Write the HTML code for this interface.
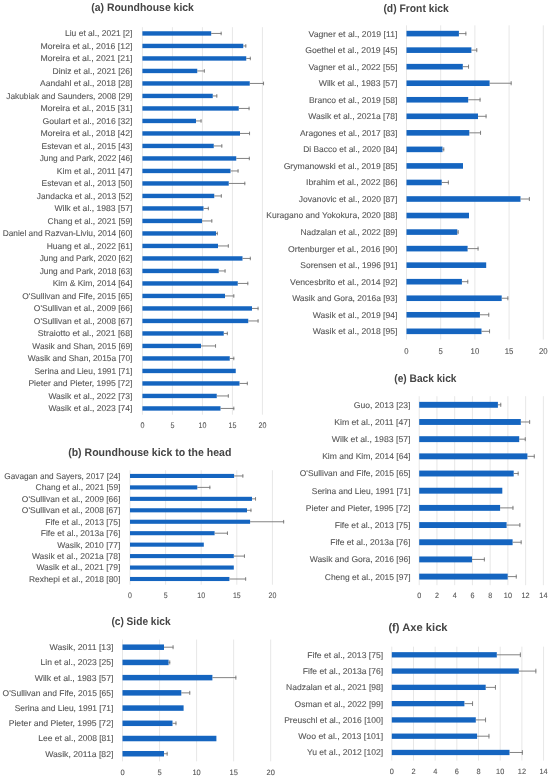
<!DOCTYPE html>
<html lang="en"><head><meta charset="utf-8"><title>Kick velocity by study</title>
<style>
html,body{margin:0;padding:0;background:#fff}
svg{display:block}
text{font-family:"Liberation Sans",sans-serif;text-rendering:geometricPrecision}
.l{font-size:8.4px;fill:#565656;text-anchor:end;stroke:#565656;stroke-width:.1}
.a{font-size:8.4px;fill:#565656;text-anchor:middle;stroke:#565656;stroke-width:.1}
.t{font-size:11px;font-weight:bold;fill:#454545}
.g{stroke:#e7e7e7;stroke-width:1}
.e{stroke:#747474;stroke-width:0.9;fill:none}
.b{fill:#1565c0}
</style></head>
<body>
<svg width="550" height="778" viewBox="0 0 550 778">
<rect width="550" height="778" fill="#fff"/>
<g>
<text class="t" x="91.3" y="10.9" textLength="102.6" lengthAdjust="spacingAndGlyphs">(a) Roundhouse kick</text>
<line class="g" x1="142.40" y1="27.20" x2="142.40" y2="414.70"/>
<line class="g" x1="172.40" y1="27.20" x2="172.40" y2="414.70"/>
<line class="g" x1="202.40" y1="27.20" x2="202.40" y2="414.70"/>
<line class="g" x1="232.40" y1="27.20" x2="232.40" y2="414.70"/>
<line class="g" x1="262.40" y1="27.20" x2="262.40" y2="414.70"/>
<text class="l" x="132.4" y="36.35" textLength="67.4" lengthAdjust="spacingAndGlyphs">Liu et al., 2021 [2]</text>
<rect class="b" x="142.40" y="31.25" width="68.80" height="4.40"/>
<path class="e" d="M211.20 33.45H221.60M221.15 31.65V35.25"/>
<text class="l" x="132.4" y="48.85" textLength="91.9" lengthAdjust="spacingAndGlyphs">Moreira et al., 2016 [12]</text>
<rect class="b" x="142.40" y="43.75" width="100.85" height="4.40"/>
<path class="e" d="M243.25 45.95H246.25M245.80 44.15V47.75"/>
<text class="l" x="132.4" y="61.35" textLength="91.9" lengthAdjust="spacingAndGlyphs">Moreira et al., 2021 [21]</text>
<rect class="b" x="142.40" y="56.25" width="103.85" height="4.40"/>
<path class="e" d="M246.25 58.45H250.75M250.30 56.65V60.25"/>
<text class="l" x="132.4" y="73.85" textLength="79.8" lengthAdjust="spacingAndGlyphs">Diniz et al., 2021 [26]</text>
<rect class="b" x="142.40" y="68.75" width="54.85" height="4.40"/>
<path class="e" d="M197.25 70.95H204.75M204.30 69.15V72.75"/>
<text class="l" x="132.4" y="86.35" textLength="92.4" lengthAdjust="spacingAndGlyphs">Aandahl et al., 2018 [28]</text>
<rect class="b" x="142.40" y="81.25" width="107.35" height="4.40"/>
<path class="e" d="M249.75 83.45H264.00M263.55 81.65V85.25"/>
<text class="l" x="132.4" y="98.85" textLength="126.1" lengthAdjust="spacingAndGlyphs">Jakubiak and Saunders, 2008 [29]</text>
<rect class="b" x="142.40" y="93.75" width="70.35" height="4.40"/>
<path class="e" d="M212.75 95.95H217.25M216.80 94.15V97.75"/>
<text class="l" x="132.4" y="111.35" textLength="91.9" lengthAdjust="spacingAndGlyphs">Moreira et al., 2015 [31]</text>
<rect class="b" x="142.40" y="106.25" width="96.35" height="4.40"/>
<path class="e" d="M238.75 108.45H249.50M249.05 106.65V110.25"/>
<text class="l" x="132.4" y="123.85" textLength="89.9" lengthAdjust="spacingAndGlyphs">Goulart et al., 2016 [32]</text>
<rect class="b" x="142.40" y="118.75" width="53.60" height="4.40"/>
<path class="e" d="M196.00 120.95H201.50M201.05 119.15V122.75"/>
<text class="l" x="132.4" y="136.35" textLength="91.9" lengthAdjust="spacingAndGlyphs">Moreira et al., 2018 [42]</text>
<rect class="b" x="142.40" y="131.25" width="97.60" height="4.40"/>
<path class="e" d="M240.00 133.45H250.00M249.55 131.65V135.25"/>
<text class="l" x="132.4" y="148.85" textLength="90.8" lengthAdjust="spacingAndGlyphs">Estevan et al., 2015 [43]</text>
<rect class="b" x="142.40" y="143.75" width="71.35" height="4.40"/>
<path class="e" d="M213.75 145.95H222.25M221.80 144.15V147.75"/>
<text class="l" x="132.4" y="161.35" textLength="92.7" lengthAdjust="spacingAndGlyphs">Jung and Park, 2022 [46]</text>
<rect class="b" x="142.40" y="156.25" width="93.85" height="4.40"/>
<path class="e" d="M236.25 158.45H249.75M249.30 156.65V160.25"/>
<text class="l" x="132.4" y="173.85" textLength="75.6" lengthAdjust="spacingAndGlyphs">Kim et al., 2011 [47]</text>
<rect class="b" x="142.40" y="168.75" width="88.10" height="4.40"/>
<path class="e" d="M230.50 170.95H238.50M238.05 169.15V172.75"/>
<text class="l" x="132.4" y="186.35" textLength="90.8" lengthAdjust="spacingAndGlyphs">Estevan et al., 2013 [50]</text>
<rect class="b" x="142.40" y="181.25" width="86.35" height="4.40"/>
<path class="e" d="M228.75 183.45H245.25M244.80 181.65V185.25"/>
<text class="l" x="132.4" y="198.85" textLength="95.6" lengthAdjust="spacingAndGlyphs">Jandacka et al., 2013 [52]</text>
<rect class="b" x="142.40" y="193.75" width="71.85" height="4.40"/>
<path class="e" d="M214.25 195.95H221.75M221.30 194.15V197.75"/>
<text class="l" x="132.4" y="211.35" textLength="78.0" lengthAdjust="spacingAndGlyphs">Wilk et al., 1983 [57]</text>
<rect class="b" x="142.40" y="206.25" width="61.10" height="4.40"/>
<path class="e" d="M203.50 208.45H208.75M208.30 206.65V210.25"/>
<text class="l" x="132.4" y="223.85" textLength="84.8" lengthAdjust="spacingAndGlyphs">Chang et al., 2021 [59]</text>
<rect class="b" x="142.40" y="218.75" width="59.60" height="4.40"/>
<path class="e" d="M202.00 220.95H212.25M211.80 219.15V222.75"/>
<text class="l" x="132.4" y="236.35" textLength="129.7" lengthAdjust="spacingAndGlyphs">Daniel and Razvan-Liviu, 2014 [60]</text>
<rect class="b" x="142.40" y="231.25" width="73.60" height="4.40"/>
<path class="e" d="M216.00 233.45H217.75M217.30 231.65V235.25"/>
<text class="l" x="132.4" y="248.85" textLength="85.7" lengthAdjust="spacingAndGlyphs">Huang et al., 2022 [61]</text>
<rect class="b" x="142.40" y="243.75" width="75.60" height="4.40"/>
<path class="e" d="M218.00 245.95H228.75M228.30 244.15V247.75"/>
<text class="l" x="132.4" y="261.35" textLength="92.7" lengthAdjust="spacingAndGlyphs">Jung and Park, 2020 [62]</text>
<rect class="b" x="142.40" y="256.25" width="100.10" height="4.40"/>
<path class="e" d="M242.50 258.45H250.75M250.30 256.65V260.25"/>
<text class="l" x="132.4" y="273.85" textLength="92.7" lengthAdjust="spacingAndGlyphs">Jung and Park, 2018 [63]</text>
<rect class="b" x="142.40" y="268.75" width="76.35" height="4.40"/>
<path class="e" d="M218.75 270.95H225.50M225.05 269.15V272.75"/>
<text class="l" x="132.4" y="286.35" textLength="79.7" lengthAdjust="spacingAndGlyphs">Kim &amp; Kim, 2014 [64]</text>
<rect class="b" x="142.40" y="281.25" width="95.35" height="4.40"/>
<path class="e" d="M237.75 283.45H248.25M247.80 281.65V285.25"/>
<text class="l" x="132.4" y="298.85" textLength="110.1" lengthAdjust="spacingAndGlyphs">O'Sullivan and Fife, 2015 [65]</text>
<rect class="b" x="142.40" y="293.75" width="82.60" height="4.40"/>
<path class="e" d="M225.00 295.95H234.25M233.80 294.15V297.75"/>
<text class="l" x="132.4" y="311.35" textLength="98.6" lengthAdjust="spacingAndGlyphs">O'Sullivan et al., 2009 [66]</text>
<rect class="b" x="142.40" y="306.25" width="109.60" height="4.40"/>
<path class="e" d="M252.00 308.45H258.50M258.05 306.65V310.25"/>
<text class="l" x="132.4" y="323.85" textLength="98.6" lengthAdjust="spacingAndGlyphs">O'Sullivan et al., 2008 [67]</text>
<rect class="b" x="142.40" y="318.75" width="105.85" height="4.40"/>
<path class="e" d="M248.25 320.95H258.50M258.05 319.15V322.75"/>
<text class="l" x="132.4" y="336.35" textLength="94.6" lengthAdjust="spacingAndGlyphs">Straiotto et al., 2021 [68]</text>
<rect class="b" x="142.40" y="331.25" width="81.35" height="4.40"/>
<path class="e" d="M223.75 333.45H227.75M227.30 331.65V335.25"/>
<text class="l" x="132.4" y="348.85" textLength="100.1" lengthAdjust="spacingAndGlyphs">Wasik and Shan, 2015 [69]</text>
<rect class="b" x="142.40" y="343.75" width="58.60" height="4.40"/>
<path class="e" d="M201.00 345.95H216.00M215.55 344.15V347.75"/>
<text class="l" x="132.4" y="361.35" textLength="104.6" lengthAdjust="spacingAndGlyphs">Wasik and Shan, 2015a [70]</text>
<rect class="b" x="142.40" y="356.25" width="87.35" height="4.40"/>
<path class="e" d="M229.75 358.45H234.25M233.80 356.65V360.25"/>
<text class="l" x="132.4" y="373.85" textLength="98.0" lengthAdjust="spacingAndGlyphs">Serina and Lieu, 1991 [71]</text>
<rect class="b" x="142.40" y="368.75" width="93.35" height="4.40"/>
<text class="l" x="132.4" y="386.35" textLength="104.0" lengthAdjust="spacingAndGlyphs">Pieter and Pieter, 1995 [72]</text>
<rect class="b" x="142.40" y="381.25" width="97.10" height="4.40"/>
<path class="e" d="M239.50 383.45H247.75M247.30 381.65V385.25"/>
<text class="l" x="132.4" y="398.85" textLength="84.0" lengthAdjust="spacingAndGlyphs">Wasik et al., 2022 [73]</text>
<rect class="b" x="142.40" y="393.75" width="74.35" height="4.40"/>
<path class="e" d="M216.75 395.95H228.75M228.30 394.15V397.75"/>
<text class="l" x="132.4" y="411.35" textLength="84.0" lengthAdjust="spacingAndGlyphs">Wasik et al., 2023 [74]</text>
<rect class="b" x="142.40" y="406.25" width="78.10" height="4.40"/>
<path class="e" d="M220.50 408.45H234.25M233.80 406.65V410.25"/>
<g class="a" style="font-size:8.1px">
<text x="142.4" y="428.2" textLength="4.0" lengthAdjust="spacingAndGlyphs">0</text>
<text x="172.4" y="428.2" textLength="4.0" lengthAdjust="spacingAndGlyphs">5</text>
<text x="202.4" y="428.2" textLength="7.9" lengthAdjust="spacingAndGlyphs">10</text>
<text x="232.4" y="428.2" textLength="7.9" lengthAdjust="spacingAndGlyphs">15</text>
<text x="262.4" y="428.2" textLength="7.9" lengthAdjust="spacingAndGlyphs">20</text>
</g>
</g>
<g>
<text class="t" x="68.2" y="455.9" textLength="163.2" lengthAdjust="spacingAndGlyphs">(b) Roundhouse kick to the head</text>
<line class="g" x1="130.00" y1="470.22" x2="130.00" y2="584.73"/>
<line class="g" x1="165.60" y1="470.22" x2="165.60" y2="584.73"/>
<line class="g" x1="201.20" y1="470.22" x2="201.20" y2="584.73"/>
<line class="g" x1="236.80" y1="470.22" x2="236.80" y2="584.73"/>
<line class="g" x1="272.40" y1="470.22" x2="272.40" y2="584.73"/>
<text class="l" x="120.4" y="478.85" textLength="116.1" lengthAdjust="spacingAndGlyphs">Gavagan and Sayers, 2017 [24]</text>
<rect class="b" x="130.00" y="473.90" width="104.10" height="4.10"/>
<path class="e" d="M234.10 475.95H243.30M242.85 474.15V477.75"/>
<text class="l" x="120.4" y="490.30" textLength="84.8" lengthAdjust="spacingAndGlyphs">Chang et al., 2021 [59]</text>
<rect class="b" x="130.00" y="485.35" width="67.30" height="4.10"/>
<path class="e" d="M197.30 487.40H210.30M209.85 485.60V489.20"/>
<text class="l" x="120.4" y="501.75" textLength="98.6" lengthAdjust="spacingAndGlyphs">O'Sullivan et al., 2009 [66]</text>
<rect class="b" x="130.00" y="496.80" width="122.00" height="4.10"/>
<path class="e" d="M252.00 498.85H256.00M255.55 497.05V500.65"/>
<text class="l" x="120.4" y="513.20" textLength="98.6" lengthAdjust="spacingAndGlyphs">O'Sullivan et al., 2008 [67]</text>
<rect class="b" x="130.00" y="508.25" width="117.00" height="4.10"/>
<path class="e" d="M247.00 510.30H251.40M250.95 508.50V512.10"/>
<text class="l" x="120.4" y="524.65" textLength="75.1" lengthAdjust="spacingAndGlyphs">Fife et al., 2013 [75]</text>
<rect class="b" x="130.00" y="519.70" width="120.10" height="4.10"/>
<path class="e" d="M250.10 521.75H284.10M283.65 519.95V523.55"/>
<text class="l" x="120.4" y="536.10" textLength="79.6" lengthAdjust="spacingAndGlyphs">Fife et al., 2013a [76]</text>
<rect class="b" x="130.00" y="531.15" width="84.60" height="4.10"/>
<path class="e" d="M214.60 533.20H227.90M227.45 531.40V535.00"/>
<text class="l" x="120.4" y="547.55" textLength="63.1" lengthAdjust="spacingAndGlyphs">Wasik, 2010 [77]</text>
<rect class="b" x="130.00" y="542.60" width="73.80" height="4.10"/>
<text class="l" x="120.4" y="559.00" textLength="88.5" lengthAdjust="spacingAndGlyphs">Wasik et al., 2021a [78]</text>
<rect class="b" x="130.00" y="554.05" width="103.80" height="4.10"/>
<path class="e" d="M233.80 556.10H244.90M244.45 554.30V557.90"/>
<text class="l" x="120.4" y="570.45" textLength="84.0" lengthAdjust="spacingAndGlyphs">Wasik et al., 2021 [79]</text>
<rect class="b" x="130.00" y="565.50" width="103.80" height="4.10"/>
<text class="l" x="120.4" y="581.90" textLength="91.5" lengthAdjust="spacingAndGlyphs">Rexhepi et al., 2018 [80]</text>
<rect class="b" x="130.00" y="576.95" width="99.40" height="4.10"/>
<path class="e" d="M229.40 579.00H246.10M245.65 577.20V580.80"/>
<g class="a" style="font-size:8.0px">
<text x="130.0" y="598.2" textLength="3.9" lengthAdjust="spacingAndGlyphs">0</text>
<text x="165.6" y="598.2" textLength="3.9" lengthAdjust="spacingAndGlyphs">5</text>
<text x="201.2" y="598.2" textLength="7.8" lengthAdjust="spacingAndGlyphs">10</text>
<text x="236.8" y="598.2" textLength="7.8" lengthAdjust="spacingAndGlyphs">15</text>
<text x="272.4" y="598.2" textLength="7.8" lengthAdjust="spacingAndGlyphs">20</text>
</g>
</g>
<g>
<text class="t" x="111.4" y="624.8" textLength="59.2" lengthAdjust="spacingAndGlyphs">(c) Side kick</text>
<line class="g" x1="122.50" y1="639.59" x2="122.50" y2="761.35"/>
<line class="g" x1="159.55" y1="639.59" x2="159.55" y2="761.35"/>
<line class="g" x1="196.60" y1="639.59" x2="196.60" y2="761.35"/>
<line class="g" x1="233.65" y1="639.59" x2="233.65" y2="761.35"/>
<line class="g" x1="270.70" y1="639.59" x2="270.70" y2="761.35"/>
<text class="l" x="113.4" y="650.10" textLength="63.8" lengthAdjust="spacingAndGlyphs">Wasik, 2011 [13]</text>
<rect class="b" x="122.50" y="644.45" width="41.50" height="5.50"/>
<path class="e" d="M164.00 647.20H173.50M173.05 645.20V649.20"/>
<text class="l" x="113.4" y="665.32" textLength="72.9" lengthAdjust="spacingAndGlyphs">Lin et al., 2023 [25]</text>
<rect class="b" x="122.50" y="659.67" width="46.10" height="5.50"/>
<path class="e" d="M168.60 662.42H170.20M169.75 660.42V664.42"/>
<text class="l" x="113.4" y="680.54" textLength="78.7" lengthAdjust="spacingAndGlyphs">Wilk et al., 1983 [57]</text>
<rect class="b" x="122.50" y="674.89" width="89.90" height="5.50"/>
<path class="e" d="M212.40 677.64H236.30M235.85 675.64V679.64"/>
<text class="l" x="113.4" y="695.76" textLength="110.8" lengthAdjust="spacingAndGlyphs">O'Sullivan and Fife, 2015 [65]</text>
<rect class="b" x="122.50" y="690.11" width="58.80" height="5.50"/>
<path class="e" d="M181.30 692.86H190.20M189.75 690.86V694.86"/>
<text class="l" x="113.4" y="710.98" textLength="98.7" lengthAdjust="spacingAndGlyphs">Serina and Lieu, 1991 [71]</text>
<rect class="b" x="122.50" y="705.33" width="61.10" height="5.50"/>
<text class="l" x="113.4" y="726.20" textLength="104.7" lengthAdjust="spacingAndGlyphs">Pieter and Pieter, 1995 [72]</text>
<rect class="b" x="122.50" y="720.55" width="50.00" height="5.50"/>
<path class="e" d="M172.50 723.30H176.40M175.95 721.30V725.30"/>
<text class="l" x="113.4" y="741.42" textLength="75.1" lengthAdjust="spacingAndGlyphs">Lee et al., 2008 [81]</text>
<rect class="b" x="122.50" y="735.77" width="93.90" height="5.50"/>
<text class="l" x="113.4" y="756.64" textLength="68.2" lengthAdjust="spacingAndGlyphs">Wasik, 2011a [82]</text>
<rect class="b" x="122.50" y="750.99" width="41.50" height="5.50"/>
<path class="e" d="M164.00 753.74H167.60M167.15 751.74V755.74"/>
<g class="a" style="font-size:7.8px">
<text x="122.5" y="775.0" textLength="4.2" lengthAdjust="spacingAndGlyphs">0</text>
<text x="159.6" y="775.0" textLength="4.2" lengthAdjust="spacingAndGlyphs">5</text>
<text x="196.6" y="775.0" textLength="8.3" lengthAdjust="spacingAndGlyphs">10</text>
<text x="233.7" y="775.0" textLength="8.3" lengthAdjust="spacingAndGlyphs">15</text>
<text x="270.7" y="775.0" textLength="8.3" lengthAdjust="spacingAndGlyphs">20</text>
</g>
</g>
<g>
<text class="t" x="383.4" y="12.2" textLength="65.4" lengthAdjust="spacingAndGlyphs">(d) Front kick</text>
<line class="g" x1="406.50" y1="25.33" x2="406.50" y2="339.59"/>
<line class="g" x1="440.70" y1="25.33" x2="440.70" y2="339.59"/>
<line class="g" x1="474.90" y1="25.33" x2="474.90" y2="339.59"/>
<line class="g" x1="509.10" y1="25.33" x2="509.10" y2="339.59"/>
<line class="g" x1="543.30" y1="25.33" x2="543.30" y2="339.59"/>
<text class="l" x="397.4" y="36.50" textLength="88.9" lengthAdjust="spacingAndGlyphs">Vagner et al., 2019 [11]</text>
<rect class="b" x="406.50" y="30.80" width="52.40" height="5.60"/>
<path class="e" d="M458.90 33.60H466.30M465.85 31.55V35.65"/>
<text class="l" x="397.4" y="53.04" textLength="92.2" lengthAdjust="spacingAndGlyphs">Goethel et al., 2019 [45]</text>
<rect class="b" x="406.50" y="47.34" width="64.90" height="5.60"/>
<path class="e" d="M471.40 50.14H477.20M476.75 48.09V52.19"/>
<text class="l" x="397.4" y="69.58" textLength="88.9" lengthAdjust="spacingAndGlyphs">Vagner et al., 2022 [55]</text>
<rect class="b" x="406.50" y="63.88" width="56.30" height="5.60"/>
<path class="e" d="M462.80 66.68H469.00M468.55 64.63V68.73"/>
<text class="l" x="397.4" y="86.12" textLength="78.7" lengthAdjust="spacingAndGlyphs">Wilk et al., 1983 [57]</text>
<rect class="b" x="406.50" y="80.42" width="83.10" height="5.60"/>
<path class="e" d="M489.60 83.22H511.60M511.15 81.17V85.27"/>
<text class="l" x="397.4" y="102.66" textLength="88.5" lengthAdjust="spacingAndGlyphs">Branco et al., 2019 [58]</text>
<rect class="b" x="406.50" y="96.96" width="61.70" height="5.60"/>
<path class="e" d="M468.20 99.76H480.50M480.05 97.71V101.81"/>
<text class="l" x="397.4" y="119.20" textLength="89.2" lengthAdjust="spacingAndGlyphs">Wasik et al., 2021a [78]</text>
<rect class="b" x="406.50" y="113.50" width="71.50" height="5.60"/>
<path class="e" d="M478.00 116.30H486.50M486.05 114.25V118.35"/>
<text class="l" x="397.4" y="135.74" textLength="97.5" lengthAdjust="spacingAndGlyphs">Aragones et al., 2017 [83]</text>
<rect class="b" x="406.50" y="130.04" width="62.80" height="5.60"/>
<path class="e" d="M469.30 132.84H481.00M480.55 130.79V134.89"/>
<text class="l" x="397.4" y="152.28" textLength="94.2" lengthAdjust="spacingAndGlyphs">Di Bacco et al., 2020 [84]</text>
<rect class="b" x="406.50" y="146.58" width="36.00" height="5.60"/>
<path class="e" d="M442.50 149.38H444.20M443.75 147.33V151.43"/>
<text class="l" x="397.4" y="168.82" textLength="113.7" lengthAdjust="spacingAndGlyphs">Grymanowski et al., 2019 [85]</text>
<rect class="b" x="406.50" y="163.12" width="56.50" height="5.60"/>
<text class="l" x="397.4" y="185.36" textLength="91.4" lengthAdjust="spacingAndGlyphs">Ibrahim et al., 2022 [86]</text>
<rect class="b" x="406.50" y="179.66" width="35.20" height="5.60"/>
<path class="e" d="M441.70 182.46H448.80M448.35 180.41V184.51"/>
<text class="l" x="397.4" y="201.90" textLength="98.6" lengthAdjust="spacingAndGlyphs">Jovanovic et al., 2020 [87]</text>
<rect class="b" x="406.50" y="196.20" width="114.00" height="5.60"/>
<path class="e" d="M520.50 199.00H529.80M529.35 196.95V201.05"/>
<text class="l" x="397.4" y="218.44" textLength="131.1" lengthAdjust="spacingAndGlyphs">Kuragano and Yokokura, 2020 [88]</text>
<rect class="b" x="406.50" y="212.74" width="62.50" height="5.60"/>
<text class="l" x="397.4" y="234.98" textLength="97.0" lengthAdjust="spacingAndGlyphs">Nadzalan et al., 2022 [89]</text>
<rect class="b" x="406.50" y="229.28" width="50.80" height="5.60"/>
<path class="e" d="M457.30 232.08H458.60M458.15 230.03V234.13"/>
<text class="l" x="397.4" y="251.52" textLength="109.4" lengthAdjust="spacingAndGlyphs">Ortenburger et al., 2016 [90]</text>
<rect class="b" x="406.50" y="245.82" width="61.10" height="5.60"/>
<path class="e" d="M467.60 248.62H478.50M478.05 246.57V250.67"/>
<text class="l" x="397.4" y="268.06" textLength="97.1" lengthAdjust="spacingAndGlyphs">Sorensen et al., 1996 [91]</text>
<rect class="b" x="406.50" y="262.36" width="79.70" height="5.60"/>
<text class="l" x="397.4" y="284.60" textLength="107.3" lengthAdjust="spacingAndGlyphs">Vencesbrito et al., 2014 [92]</text>
<rect class="b" x="406.50" y="278.90" width="55.40" height="5.60"/>
<path class="e" d="M461.90 281.70H468.20M467.75 279.65V283.75"/>
<text class="l" x="397.4" y="301.14" textLength="105.2" lengthAdjust="spacingAndGlyphs">Wasik and Gora, 2016a [93]</text>
<rect class="b" x="406.50" y="295.44" width="95.20" height="5.60"/>
<path class="e" d="M501.70 298.24H508.30M507.85 296.19V300.29"/>
<text class="l" x="397.4" y="317.68" textLength="84.7" lengthAdjust="spacingAndGlyphs">Wasik et al., 2019 [94]</text>
<rect class="b" x="406.50" y="311.98" width="73.40" height="5.60"/>
<path class="e" d="M479.90 314.78H489.20M488.75 312.73V316.83"/>
<text class="l" x="397.4" y="334.22" textLength="84.7" lengthAdjust="spacingAndGlyphs">Wasik et al., 2018 [95]</text>
<rect class="b" x="406.50" y="328.52" width="75.00" height="5.60"/>
<path class="e" d="M481.50 331.32H490.00M489.55 329.27V333.37"/>
<g class="a" style="font-size:8.4px">
<text x="406.5" y="353.5" textLength="4.3" lengthAdjust="spacingAndGlyphs">0</text>
<text x="440.7" y="353.5" textLength="4.3" lengthAdjust="spacingAndGlyphs">5</text>
<text x="474.9" y="353.5" textLength="8.7" lengthAdjust="spacingAndGlyphs">10</text>
<text x="509.1" y="353.5" textLength="8.7" lengthAdjust="spacingAndGlyphs">15</text>
<text x="543.3" y="353.5" textLength="8.7" lengthAdjust="spacingAndGlyphs">20</text>
</g>
</g>
<g>
<text class="t" x="394.3" y="381.5" textLength="62.2" lengthAdjust="spacingAndGlyphs">(e) Back kick</text>
<line class="g" x1="419.20" y1="396.21" x2="419.20" y2="585.19"/>
<line class="g" x1="436.94" y1="396.21" x2="436.94" y2="585.19"/>
<line class="g" x1="454.68" y1="396.21" x2="454.68" y2="585.19"/>
<line class="g" x1="472.42" y1="396.21" x2="472.42" y2="585.19"/>
<line class="g" x1="490.16" y1="396.21" x2="490.16" y2="585.19"/>
<line class="g" x1="507.90" y1="396.21" x2="507.90" y2="585.19"/>
<line class="g" x1="525.64" y1="396.21" x2="525.64" y2="585.19"/>
<line class="g" x1="543.38" y1="396.21" x2="543.38" y2="585.19"/>
<text class="l" x="410.5" y="407.70" textLength="56.7" lengthAdjust="spacingAndGlyphs">Guo, 2013 [23]</text>
<rect class="b" x="419.20" y="401.85" width="78.70" height="5.90"/>
<path class="e" d="M497.90 404.80H501.20M500.75 402.75V406.85"/>
<text class="l" x="410.5" y="424.88" textLength="76.3" lengthAdjust="spacingAndGlyphs">Kim et al., 2011 [47]</text>
<rect class="b" x="419.20" y="419.03" width="101.60" height="5.90"/>
<path class="e" d="M520.80 421.98H530.10M529.65 419.93V424.03"/>
<text class="l" x="410.5" y="442.06" textLength="78.7" lengthAdjust="spacingAndGlyphs">Wilk et al., 1983 [57]</text>
<rect class="b" x="419.20" y="436.21" width="100.00" height="5.90"/>
<path class="e" d="M519.20 439.16H525.70M525.25 437.11V441.21"/>
<text class="l" x="410.5" y="459.24" textLength="88.3" lengthAdjust="spacingAndGlyphs">Kim and Kim, 2014 [64]</text>
<rect class="b" x="419.20" y="453.39" width="108.20" height="5.90"/>
<path class="e" d="M527.40 456.34H534.70M534.25 454.29V458.39"/>
<text class="l" x="410.5" y="476.42" textLength="110.8" lengthAdjust="spacingAndGlyphs">O'Sullivan and Fife, 2015 [65]</text>
<rect class="b" x="419.20" y="470.57" width="94.50" height="5.90"/>
<path class="e" d="M513.70 473.52H518.60M518.15 471.47V475.57"/>
<text class="l" x="410.5" y="493.60" textLength="98.7" lengthAdjust="spacingAndGlyphs">Serina and Lieu, 1991 [71]</text>
<rect class="b" x="419.20" y="487.75" width="83.10" height="5.90"/>
<text class="l" x="410.5" y="510.78" textLength="104.7" lengthAdjust="spacingAndGlyphs">Pieter and Pieter, 1995 [72]</text>
<rect class="b" x="419.20" y="504.93" width="80.90" height="5.90"/>
<path class="e" d="M500.10 507.88H513.40M512.95 505.83V509.93"/>
<text class="l" x="410.5" y="527.96" textLength="75.8" lengthAdjust="spacingAndGlyphs">Fife et al., 2013 [75]</text>
<rect class="b" x="419.20" y="522.11" width="87.40" height="5.90"/>
<path class="e" d="M506.60 525.06H520.30M519.85 523.01V527.11"/>
<text class="l" x="410.5" y="545.14" textLength="80.3" lengthAdjust="spacingAndGlyphs">Fife et al., 2013a [76]</text>
<rect class="b" x="419.20" y="539.29" width="93.40" height="5.90"/>
<path class="e" d="M512.60 542.24H521.60M521.15 540.19V544.29"/>
<text class="l" x="410.5" y="562.32" textLength="100.8" lengthAdjust="spacingAndGlyphs">Wasik and Gora, 2016 [96]</text>
<rect class="b" x="419.20" y="556.47" width="52.80" height="5.90"/>
<path class="e" d="M472.00 559.42H484.80M484.35 557.37V561.47"/>
<text class="l" x="410.5" y="579.50" textLength="85.7" lengthAdjust="spacingAndGlyphs">Cheng et al., 2015 [97]</text>
<rect class="b" x="419.20" y="573.65" width="88.50" height="5.90"/>
<path class="e" d="M507.70 576.60H516.70M516.25 574.55V578.65"/>
<g class="a" style="font-size:7.8px">
<text x="419.2" y="598.3" textLength="4.0" lengthAdjust="spacingAndGlyphs">0</text>
<text x="436.9" y="598.3" textLength="4.0" lengthAdjust="spacingAndGlyphs">2</text>
<text x="454.7" y="598.3" textLength="4.0" lengthAdjust="spacingAndGlyphs">4</text>
<text x="472.4" y="598.3" textLength="4.0" lengthAdjust="spacingAndGlyphs">6</text>
<text x="490.2" y="598.3" textLength="4.0" lengthAdjust="spacingAndGlyphs">8</text>
<text x="507.9" y="598.3" textLength="8.1" lengthAdjust="spacingAndGlyphs">10</text>
<text x="525.6" y="598.3" textLength="8.1" lengthAdjust="spacingAndGlyphs">12</text>
<text x="543.4" y="598.3" textLength="8.1" lengthAdjust="spacingAndGlyphs">14</text>
</g>
</g>
<g>
<text class="t" x="388.4" y="631.0" textLength="59.2" lengthAdjust="spacingAndGlyphs">(f) Axe kick</text>
<line class="g" x1="391.80" y1="646.66" x2="391.80" y2="760.62"/>
<line class="g" x1="413.48" y1="646.66" x2="413.48" y2="760.62"/>
<line class="g" x1="435.16" y1="646.66" x2="435.16" y2="760.62"/>
<line class="g" x1="456.84" y1="646.66" x2="456.84" y2="760.62"/>
<line class="g" x1="478.52" y1="646.66" x2="478.52" y2="760.62"/>
<line class="g" x1="500.20" y1="646.66" x2="500.20" y2="760.62"/>
<line class="g" x1="521.88" y1="646.66" x2="521.88" y2="760.62"/>
<line class="g" x1="543.56" y1="646.66" x2="543.56" y2="760.62"/>
<text class="l" x="383.1" y="657.70" textLength="75.8" lengthAdjust="spacingAndGlyphs">Fife et al., 2013 [75]</text>
<rect class="b" x="391.80" y="652.15" width="105.00" height="5.30"/>
<path class="e" d="M496.80 654.80H520.80M520.35 652.45V657.15"/>
<text class="l" x="383.1" y="673.98" textLength="80.3" lengthAdjust="spacingAndGlyphs">Fife et al., 2013a [76]</text>
<rect class="b" x="391.80" y="668.43" width="127.00" height="5.30"/>
<path class="e" d="M518.80 671.08H536.30M535.85 668.73V673.43"/>
<text class="l" x="383.1" y="690.26" textLength="97.0" lengthAdjust="spacingAndGlyphs">Nadzalan et al., 2021 [98]</text>
<rect class="b" x="391.80" y="684.71" width="93.90" height="5.30"/>
<path class="e" d="M485.70 687.36H495.90M495.45 685.01V689.71"/>
<text class="l" x="383.1" y="706.54" textLength="88.6" lengthAdjust="spacingAndGlyphs">Osman et al., 2022 [99]</text>
<rect class="b" x="391.80" y="700.99" width="72.60" height="5.30"/>
<path class="e" d="M464.40 703.64H473.00M472.55 701.29V705.99"/>
<text class="l" x="383.1" y="722.82" textLength="98.9" lengthAdjust="spacingAndGlyphs">Preuschl et al., 2016 [100]</text>
<rect class="b" x="391.80" y="717.27" width="84.00" height="5.30"/>
<path class="e" d="M475.80 719.92H486.00M485.55 717.57V722.27"/>
<text class="l" x="383.1" y="739.10" textLength="84.8" lengthAdjust="spacingAndGlyphs">Woo et al., 2013 [101]</text>
<rect class="b" x="391.80" y="733.55" width="85.30" height="5.30"/>
<path class="e" d="M477.10 736.20H489.40M488.95 733.85V738.55"/>
<text class="l" x="383.1" y="755.38" textLength="76.1" lengthAdjust="spacingAndGlyphs">Yu et al., 2012 [102]</text>
<rect class="b" x="391.80" y="749.83" width="117.70" height="5.30"/>
<path class="e" d="M509.50 752.48H522.80M522.35 750.13V754.83"/>
<g class="a" style="font-size:7.7px">
<text x="391.8" y="774.4" textLength="4.1" lengthAdjust="spacingAndGlyphs">0</text>
<text x="413.5" y="774.4" textLength="4.1" lengthAdjust="spacingAndGlyphs">2</text>
<text x="435.2" y="774.4" textLength="4.1" lengthAdjust="spacingAndGlyphs">4</text>
<text x="456.8" y="774.4" textLength="4.1" lengthAdjust="spacingAndGlyphs">6</text>
<text x="478.5" y="774.4" textLength="4.1" lengthAdjust="spacingAndGlyphs">8</text>
<text x="500.2" y="774.4" textLength="8.2" lengthAdjust="spacingAndGlyphs">10</text>
<text x="521.9" y="774.4" textLength="8.2" lengthAdjust="spacingAndGlyphs">12</text>
<text x="543.6" y="774.4" textLength="8.2" lengthAdjust="spacingAndGlyphs">14</text>
</g>
</g>
</svg>
</body></html>
